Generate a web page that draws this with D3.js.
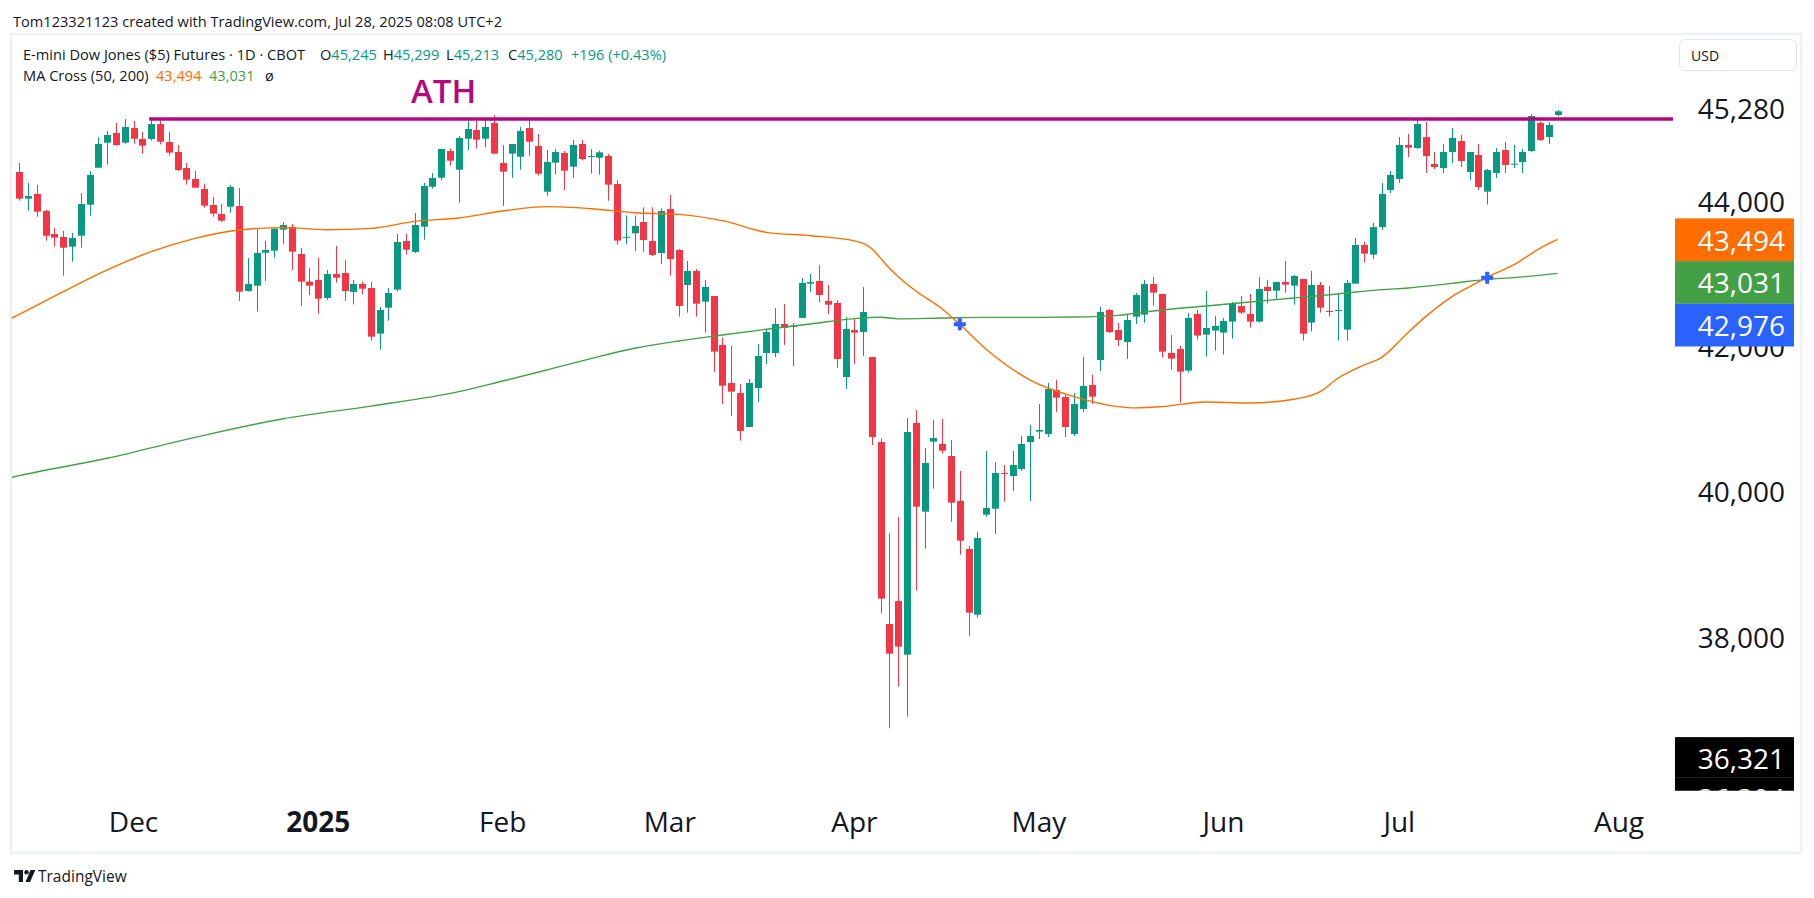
<!DOCTYPE html>
<html>
<head>
<meta charset="utf-8">
<script src="https://cdn.jsdelivr.net/npm/d3@7"></script>
<style>
  body { margin: 0; background: #fff; }
  svg { display: block; font-family: "Open Sans", "Noto Sans", sans-serif; }
</style>
</head>
<body>
<div id="chart"></div>
<script>
// daily bars, 12 Nov 2024 .. 28 Jul 2025 (bar index 0..175)
const open = [44399,44032,44096,43862,43545,43504,43371,43522,43949,44459,
  44803,44936,44803,45005,44854,44854,45060,44812,44675,44454,
  44303,44165,43945,43821,43922,43931,42761,42834,43288,43316,
  43605,43642,43270,42889,42912,42664,42995,43008,42747,42857,
  42802,42173,42531,42779,43449,43298,43646,44197,44321,44688,
  44431,44858,44978,44858,45074,44523,44652,44610,45005,44757,
  44128,44528,44661,44473,44785,44610,44597,44620,44234,43500,
  43555,43711,43449,43284,43890,43325,42843,43036,42614,42692,
  42017,41493,41355,40887,41424,41906,41906,42306,42265,42389,
  42861,42898,42623,42595,41576,42223,42196,41851,40680,38174,
  38490,37751,40942,39721,40685,40653,40488,39868,39207,38302,
  39679,39762,40253,40212,40308,40680,40823,40790,41396,41300,
  40790,41135,41465,41810,42498,42223,42058,42407,42435,42857,
  42720,41907,41962,41664,42444,42159,42215,42187,42339,42554,
  42444,42339,42816,42765,42885,42834,42926,42325,42843,42485,
  42490,42228,42862,43394,43261,43640,44151,44303,44771,44730,
  44881,44510,44455,44675,44826,44399,44633,44129,44386,44702,
  44501,44537,44689,45074,44881,45185];
const high = [44523,44248,44220,43876,43628,43587,43559,44110,44413,44877,
  44964,45074,45129,45102,44950,45129,45106,44950,44771,44523,
  44413,44239,44055,43959,44220,44179,43215,43628,43449,43633,
  43711,43683,43353,43077,43215,43050,43380,43187,42912,42889,
  42884,42540,42802,43545,43545,43835,44248,44386,44716,44725,
  44895,45106,45106,45138,45184,44771,44785,45019,45143,44923,
  44702,44716,44688,44840,44840,44716,44693,44647,44289,43802,
  43802,43913,43913,43899,44082,43339,43174,43063,42912,42692,
  42118,42003,41479,41548,42030,42237,42526,42581,42320,42940,
  42994,43119,42843,42636,42402,42389,42815,41851,40731,39422,
  39647,41011,41121,40598,40983,40997,40708,40281,39248,39441,
  40556,40405,40364,40556,40763,40915,41204,41493,41534,41328,
  41355,41851,41603,42540,42512,42319,42430,42732,42912,42954,
  42720,42155,42003,42458,42499,42761,42417,42389,42609,42692,
  42720,42954,42912,42885,43174,42981,42926,43036,42885,42830,
  42733,42912,43491,43436,43700,44248,44413,44881,44923,45143,
  45088,44675,44785,45005,44909,44675,44785,44441,44730,44812,
  44771,44716,45198,45088,45088,45253];
const low = [44004,43867,43784,43454,43371,42972,43164,43357,43798,44459,
  44500,44762,44790,44790,44652,44831,44780,44624,44413,44225,
  44179,43908,43784,43711,43839,42623,42752,42476,42898,43220,
  43408,43050,42558,42705,42448,42637,42875,42623,42577,42714,
  42076,41952,42352,42751,43261,43284,43467,44170,44285,44487,
  43977,44702,44721,44739,44643,43931,44321,44431,44624,44349,
  44073,44363,44151,44321,44560,44377,44363,44004,43399,43403,
  43311,43302,43243,43132,42972,42407,42462,42407,42187,41649,
  41204,41039,40699,40887,41232,41755,41851,42017,41727,42389,
  42747,42609,42444,41700,41411,41755,41865,40639,38321,36737,
  37311,36897,38633,39211,40038,40520,39583,39128,38013,38261,
  39652,39413,39859,40005,40281,39868,40722,40749,41094,40749,
  40763,41094,41204,41658,42182,42003,41823,42306,42325,42559,
  41843,41677,41223,41636,42091,41856,41939,41884,42105,42444,
  42256,42325,42586,42646,42738,42573,42077,42201,42462,42407,
  42077,42077,42862,43151,43200,43600,44110,44252,44606,44716,
  44386,44441,44386,44523,44468,44289,44151,43950,44317,44386,
  44454,44386,44675,44826,44785,45171];
const close = [44032,44069,43853,43522,43495,43357,43490,43959,44358,44785,
  44909,44771,45019,44858,44762,45060,44817,44666,44427,44294,
  44184,43936,43826,43729,44193,42751,42857,43284,43325,43619,
  43669,43302,42889,42834,42655,42995,42944,42760,42857,42792,
  42131,42499,42733,43435,43330,43669,44207,44317,44716,44555,
  44868,44992,44845,45019,44652,44404,44785,44964,44817,44376,
  44537,44675,44418,44771,44578,44620,44670,44225,43454,43506,
  43656,43463,43256,43862,43201,42554,43036,42586,42816,41925,
  41456,41374,40832,41493,41865,42196,42306,42251,42283,42871,
  42884,42705,42572,41824,42237,42187,42471,40749,38523,37765,
  37862,40818,39790,40391,40735,40561,39845,39321,38330,39358,
  39771,40253,40244,40364,40653,40763,40846,41410,41291,40887,
  41204,41452,41305,42471,42195,42085,42361,42705,42857,42738,
  41925,41829,41650,42389,42146,42251,42279,42348,42582,42463,
  42339,42788,42761,42885,42848,42967,42173,42843,42531,42476,
  42499,42871,43394,43275,43640,44096,44358,44771,44735,45060,
  44620,44468,44675,44868,44551,44675,44193,44427,44675,44496,
  44514,44675,45171,44840,45047,45235];

// moving averages at these bar indices
const ma50Idx = [-1,0,5,10,15,20,25,30,35,40,45,50,55,60,65,70,75,80,85,90,95,96,97,98,99,100,102,105,107,110,115,120,125,127,130,135,140,145,148,150,153,155,158,160,163,165,167,170,173,175];
const ma50Val = [42380,42439,42751,43050,43302,43486,43601,43633,43605,43623,43720,43766,43862,43922,43894,43839,43816,43729,43568,43522,43450,43417,43343,43210,43073,42958,42760,42512,42301,41957,41534,41305,41167,41150,41168,41232,41218,41269,41374,41558,41742,41847,42190,42407,42683,42820,42949,43119,43348,43470];
const ma200Idx = [-1,0,10,20,30,40,50,55,60,65,70,75,80,85,90,95,98,100,105,110,115,120,125,127,130,135,140,145,150,155,158,163,167,170,175];
const ma200Val = [40190,40218,40457,40744,41000,41175,41374,41521,41672,41828,41971,42072,42154,42233,42306,42380,42398,42377,42388,42397,42397,42402,42425,42455,42499,42554,42609,42664,42720,42779,42802,42866,42921,42944,43004];
const crossIdx = [107, 167];
const crossVal = [42302, 42944];

const monthIdx = [13, 34, 55, 74, 95, 116, 137, 157, 182];
const monthNames = ["Dec", "2025", "Feb", "Mar", "Apr", "May", "Jun", "Jul", "Aug"];
const priceTicks = [44000, 42000, 40000, 38000];
const lastPrice = 45280;
const athIdx = 15, athPrice = 45129;
const tagValues = [43494, 43031, 42976];
const lowTagValues = [36321, 36304];

const width = 1814, height = 898;
const plot = { left: 12, top: 35, right: 1673, bottom: 790.7 };
const up = "#089981", down = "#f23645", ink = "#131722";
const tagColors = ["#ff6d00", "#43a047", "#2962ff"];

const fmt = d3.format(",");

const svg = d3.select("#chart")
  .append("svg")
  .attr("width", width)
  .attr("height", height)
  .attr("viewBox", [0, 0, width, height]);

let x = d3.scaleLinear().domain([0, 175]).range([19.3, 1557.5]);
let y = d3.scaleLinear().domain([44000, 40000]).range([201, 491.4]);

svg.append("defs").append("clipPath").attr("id", "pane")
  .append("rect")
  .attr("x", plot.left).attr("y", plot.top)
  .attr("width", plot.right - plot.left).attr("height", plot.bottom - plot.top);

svg.select("defs").append("clipPath").attr("id", "scale")
  .append("rect")
  .attr("x", plot.right).attr("y", plot.top)
  .attr("width", 130).attr("height", plot.bottom - plot.top);

// outer frame
svg.append("rect")
  .attr("x", 11).attr("y", 34).attr("width", 1790).attr("height", 819)
  .attr("fill", "none").attr("stroke", "#eef0f4").attr("stroke-width", 2.5);

// header
svg.append("text")
  .attr("x", 13).attr("y", 21).attr("dominant-baseline", "central")
  .attr("font-size", 14.6).attr("fill", ink)
  .text("Tom123321123 created with TradingView.com, Jul 28, 2025 08:08 UTC+2");

const pane = svg.append("g").attr("clip-path", "url(#pane)");

// candles
const bars = d3.range(open.length);
const candle = pane.append("g").selectAll("g")
  .data(bars)
  .join("g")
  .attr("fill", i => close[i] >= open[i] ? up : down);

candle.append("rect")
  .attr("x", i => Math.round(x(i)))
  .attr("width", 1)
  .attr("y", i => y(high[i]))
  .attr("height", i => y(low[i]) - y(high[i]));

candle.append("rect")
  .attr("x", i => Math.round(x(i)) - 3)
  .attr("width", 7)
  .attr("y", i => y(Math.max(open[i], close[i])))
  .attr("height", i => Math.max(1, Math.abs(y(open[i]) - y(close[i]))));

// moving averages
let line = d3.line()
  .x(d => x(d[0]))
  .y(d => y(d[1]))
  .curve(d3.curveMonotoneX);

pane.append("path")
  .datum(d3.zip(ma200Idx, ma200Val))
  .attr("fill", "none")
  .attr("stroke", "#43a047")
  .attr("stroke-width", 1.4)
  .attr("d", line);

pane.append("path")
  .datum(d3.zip(ma50Idx, ma50Val))
  .attr("fill", "none")
  .attr("stroke", "#ff6d00")
  .attr("stroke-width", 1.4)
  .attr("d", line);

// cross markers
pane.append("g").selectAll("path")
  .data(d3.zip(crossIdx, crossVal))
  .join("path")
  .attr("d", d => `M${x(d[0]) - 6},${y(d[1])}h12M${x(d[0])},${y(d[1]) - 6}v12`)
  .attr("stroke", "#2962ff")
  .attr("stroke-width", 4);

// ATH line and label
pane.append("line")
  .attr("x1", x(athIdx) - 2).attr("x2", plot.right)
  .attr("y1", y(athPrice)).attr("y2", y(athPrice))
  .attr("stroke", "#b5087f").attr("stroke-width", 3.4);

svg.append("text")
  .attr("x", 411).attr("y", 103)
  .attr("font-size", 33).attr("font-weight", 600)
  .attr("fill", "#b5087f")
  .text("ATH");

// legend
const legend1 = svg.append("text").attr("y", 53.5)
  .attr("dominant-baseline", "central").attr("font-size", 14.6).attr("fill", ink);
legend1.append("tspan").attr("x", 23).text("E-mini Dow Jones ($5) Futures · 1D · CBOT");
const ohlc = [["O", 320, "45,245"], ["H", 383, "45,299"], ["L", 446, "45,213"], ["C", 508, "45,280"]];
for (let [k, px, v] of ohlc) {
  legend1.append("tspan").attr("x", px).text(k);
  legend1.append("tspan").attr("fill", up).text(v);
}
legend1.append("tspan").attr("x", 571).attr("fill", up).text("+196 (+0.43%)");

const legend2 = svg.append("text").attr("y", 75)
  .attr("dominant-baseline", "central").attr("font-size", 14.6).attr("fill", ink);
legend2.append("tspan").attr("x", 23).text("MA Cross (50, 200)");
legend2.append("tspan").attr("x", 156).attr("fill", "#ff6d00").text(fmt(tagValues[0]));
legend2.append("tspan").attr("x", 209).attr("fill", "#43a047").text(fmt(tagValues[1]));
legend2.append("tspan").attr("x", 265).text("ø");

// USD box
svg.append("rect")
  .attr("x", 1679.5).attr("y", 39.5).attr("width", 117).attr("height", 31).attr("rx", 6)
  .attr("fill", "#fff").attr("stroke", "#e0e3eb");
svg.append("text")
  .attr("x", 1691).attr("y", 55.5).attr("dominant-baseline", "central")
  .attr("font-size", 14).attr("fill", ink).text("USD");

// price scale
const scaleG = svg.append("g").attr("clip-path", "url(#scale)")
  .attr("font-size", 28).attr("text-anchor", "end");

scaleG.selectAll("text.tick")
  .data(priceTicks.concat([lastPrice]))
  .join("text")
  .attr("class", "tick")
  .attr("x", 1785)
  .attr("y", d => y(d))
  .attr("dominant-baseline", "central")
  .attr("fill", ink)
  .text(d => fmt(d));

// stacked value tags
const tagH = 42.7;
let prev = -Infinity;
const tagTops = tagValues.map(v => {
  let top = Math.max(y(v) - tagH / 2 + 2, prev);
  prev = top + tagH;
  return top;
});
const tags = scaleG.selectAll("g.tag")
  .data(tagValues)
  .join("g").attr("class", "tag");
tags.append("rect")
  .attr("x", 1675).attr("width", 119)
  .attr("y", (d, i) => tagTops[i]).attr("height", tagH)
  .attr("fill", (d, i) => tagColors[i]);
tags.append("text")
  .attr("x", 1785).attr("y", (d, i) => tagTops[i] + tagH / 2)
  .attr("dominant-baseline", "central")
  .attr("fill", "#fff")
  .text(d => fmt(d));

// two stacked black tags, the lower one cut by the pane edge
const lowH = 40;
const lowTop = y(lowTagValues[0]) - tagH / 2;
const lowTags = scaleG.selectAll("g.low")
  .data(lowTagValues)
  .join("g").attr("class", "low");
lowTags.append("rect")
  .attr("x", 1675).attr("width", 119)
  .attr("y", (d, i) => lowTop + i * lowH).attr("height", i => i ? lowH : tagH)
  .attr("fill", "#000");
lowTags.append("text")
  .attr("x", 1785).attr("y", (d, i) => lowTop + tagH / 2 + i * lowH)
  .attr("dominant-baseline", "central")
  .attr("fill", "#fff")
  .text(d => fmt(d));

// time scale
svg.append("g")
  .attr("font-size", 28).attr("text-anchor", "middle").attr("fill", ink)
  .selectAll("text")
  .data(monthIdx)
  .join("text")
  .attr("x", d => x(d))
  .attr("y", 821)
  .attr("dominant-baseline", "central")
  .attr("font-weight", (d, i) => monthNames[i] === "2025" ? 700 : 400)
  .text((d, i) => monthNames[i]);

// footer logo
const logo = svg.append("g").attr("fill", ink);
logo.append("path").attr("d", "M14,870h9v12h-4.2v-7.6H14z");
logo.append("circle").attr("cx", 26.5).attr("cy", 872.2).attr("r", 2.2);
logo.append("path").attr("d", "M30.5,870h4.8l-5.2,12h-4.6z");
svg.append("text")
  .attr("x", 38).attr("y", 876).attr("dominant-baseline", "central")
  .attr("font-size", 15.5).attr("fill", ink)
  .text("TradingView");
</script>
</body>
</html>
